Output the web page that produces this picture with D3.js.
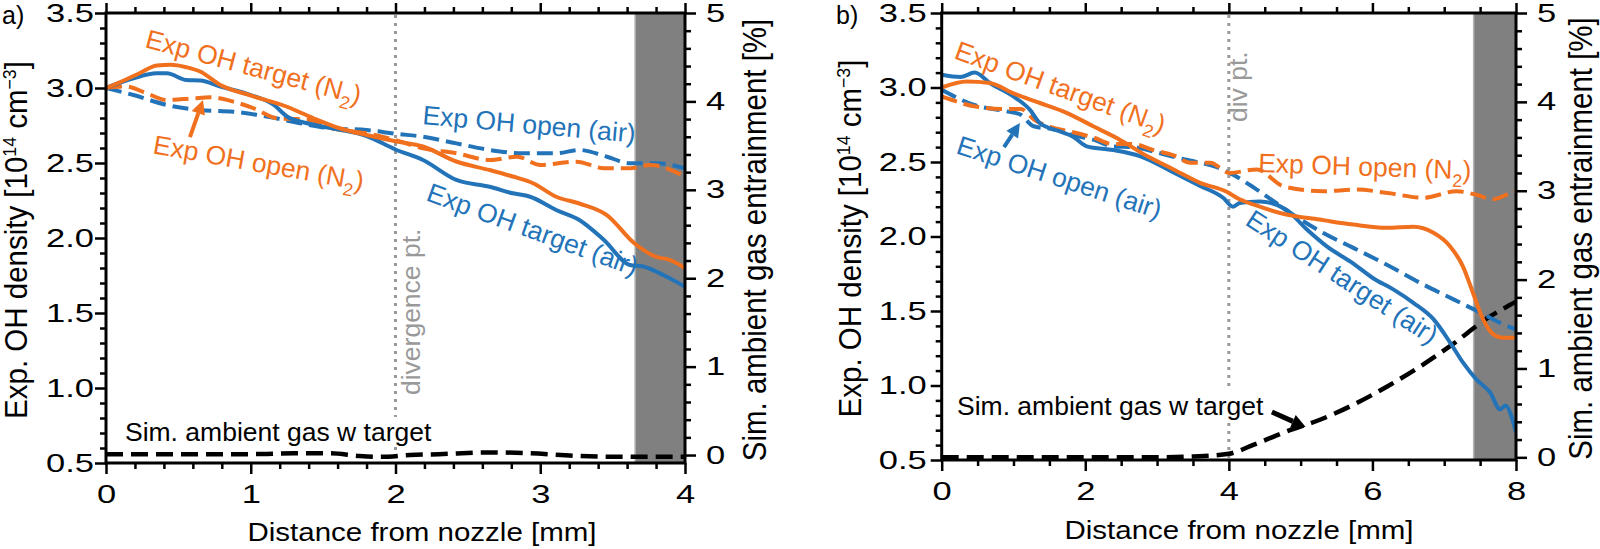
<!DOCTYPE html>
<html>
<head>
<meta charset="utf-8">
<script src="https://cdn.jsdelivr.net/npm/d3@7"></script>
<style>
  body { margin: 0; background: #fff; }
  svg { display: block; }
</style>
</head>
<body>
<script>

// ---- panel a: [distance mm, OH density 1e14 cm^-3] ----
var aTargetN2 = [[0,3.00],[0.1,3.04],[0.235,3.10],[0.35,3.15],[0.45,3.155],[0.557,3.138],[0.65,3.11],[0.79,3.02],[1.0,2.95],[1.25,2.875],[1.43,2.80],[1.62,2.73],[1.80,2.687],[2.0,2.645],[2.19,2.61],[2.42,2.51],[2.65,2.453],[2.81,2.41],[2.95,2.365],[3.11,2.275],[3.27,2.23],[3.46,2.153],[3.65,1.965],[3.80,1.875],[3.90,1.853],[4.0,1.80]];
var aTargetAir = [[0,3.00],[0.19,3.065],[0.35,3.098],[0.42,3.098],[0.557,3.053],[0.65,3.05],[0.79,3.01],[1.0,2.953],[1.16,2.887],[1.25,2.81],[1.39,2.765],[1.57,2.73],[1.80,2.68],[2.0,2.59],[2.19,2.52],[2.42,2.387],[2.65,2.342],[2.81,2.298],[2.93,2.275],[3.11,2.187],[3.27,2.12],[3.44,1.987],[3.62,1.82],[3.71,1.81],[3.85,1.753],[4.0,1.675]];
var aOpenAir = [[0,3.00],[0.19,2.953],[0.42,2.887],[0.65,2.853],[0.88,2.842],[1.11,2.81],[1.34,2.765],[1.57,2.73],[1.80,2.72],[2.0,2.695],[2.19,2.675],[2.42,2.631],[2.65,2.587],[2.88,2.565],[3.11,2.565],[3.27,2.587],[3.46,2.542],[3.62,2.498],[3.80,2.498],[4.0,2.465]];
var aOpenN2 = [[0,3.00],[0.14,3.01],[0.28,2.965],[0.42,2.92],[0.60,2.931],[0.72,2.938],[0.88,2.909],[1.02,2.865],[1.18,2.798],[1.39,2.79],[1.57,2.73],[1.80,2.698],[2.0,2.653],[2.19,2.598],[2.42,2.565],[2.65,2.52],[2.84,2.542],[3.0,2.487],[3.25,2.509],[3.44,2.465],[3.62,2.465],[3.76,2.487],[4.0,2.409]];
// sim. ambient gas entrainment [%], right axis
var aSim = [[0,0.01],[0.5,0.01],[1.0,0.01],[1.3,0.02],[1.55,0.02],[1.75,-0.01],[1.9,-0.02],[2.1,0.0],[2.3,0.01],[2.64,0.03],[2.93,0.02],[3.25,-0.01],[3.5,-0.02],[4.0,-0.02]];

// ---- panel b ----
var bTargetN2 = [[0,3.0],[0.35,3.04],[0.67,3.03],[1.0,2.96],[1.37,2.896],[1.74,2.83],[2.11,2.74],[2.48,2.65],[2.86,2.54],[3.23,2.45],[3.60,2.36],[3.97,2.30],[4.15,2.25],[4.34,2.215],[4.80,2.148],[5.26,2.114],[5.73,2.08],[6.20,2.058],[6.57,2.065],[6.85,2.025],[7.08,1.935],[7.26,1.80],[7.40,1.623],[7.54,1.445],[7.68,1.345],[7.82,1.32],[8.0,1.32]];
var bTargetAir = [[0,3.085],[0.26,3.07],[0.46,3.10],[0.67,3.03],[1.0,2.94],[1.23,2.85],[1.37,2.76],[1.65,2.705],[1.83,2.67],[2.02,2.605],[2.39,2.58],[2.76,2.54],[3.23,2.43],[3.60,2.34],[3.92,2.26],[4.06,2.20],[4.15,2.225],[4.43,2.235],[4.80,2.18],[5.08,2.05],[5.36,1.935],[5.73,1.82],[6.01,1.72],[6.29,1.645],[6.57,1.555],[6.85,1.445],[7.08,1.29],[7.26,1.155],[7.45,1.04],[7.64,0.953],[7.78,0.84],[7.85,0.865],[8.0,0.685]];
var bOpenAir = [[0,2.985],[0.44,2.885],[0.9,2.84],[1.09,2.82],[1.28,2.74],[1.55,2.72],[1.83,2.68],[2.11,2.65],[2.39,2.605],[2.67,2.60],[2.95,2.57],[3.23,2.535],[3.6,2.495],[3.8,2.47],[4.01,2.427],[4.39,2.315],[4.85,2.16],[5.31,2.025],[5.78,1.913],[6.24,1.80],[6.66,1.69],[7.13,1.578],[7.50,1.49],[7.78,1.42],[8.0,1.377]];
var bOpenN2 = [[0,2.94],[0.5,2.87],[0.9,2.855],[1.1,2.855],[1.3,2.78],[1.55,2.73],[1.83,2.70],[2.11,2.665],[2.39,2.62],[2.67,2.62],[2.95,2.58],[3.23,2.545],[3.46,2.495],[3.74,2.495],[4.01,2.427],[4.39,2.45],[4.76,2.337],[5.31,2.304],[5.78,2.315],[6.24,2.29],[6.71,2.26],[7.17,2.304],[7.45,2.28],[7.68,2.25],[7.92,2.29],[8.0,2.30]];
var bSim = [[0,0.0],[1,0.0],[2,0.0],[3,0.0],[3.5,0.01],[4.0,0.04],[4.34,0.14],[4.80,0.29],[5.26,0.42],[5.73,0.59],[6.20,0.795],[6.66,1.02],[7.13,1.28],[7.59,1.56],[8.0,1.75]];

// tick values
var yTicks = [0.5, 1.0, 1.5, 2.0, 2.5, 3.0, 3.5];
var y2Ticks = [0, 1, 2, 3, 4, 5];
var aXTicks = [0, 1, 2, 3, 4];
var bXTicks = [0, 2, 4, 6, 8];

var orange = "#f0701e", blue = "#2373b9", grey = "#999999";

var svg = d3.select("body").append("svg")
    .attr("width", 1600).attr("height", 549)
    .style("font-family", '"Liberation Sans", Arial, Helvetica, sans-serif');

var panels = [
    {
        id: "a", label: "a)", labelX: 2,
        left: 106, right: 685, top: 13, bottom: 463,
        xDomain: [0, 4], xTicks: aXTicks, xMinor: 0.2, y2Domain: [-0.09, 5],
        shadeFrom: 3.655, divX: 2,
        yTitleX: 27, y2TitleX: 766, xTitleX: 422, xTitleY: 541, leftPad: 1,
        series: [
            { data: aSim, color: "#000", dash: true, right: true },
            { data: aOpenAir, color: blue, dash: true },
            { data: aOpenN2, color: orange, dash: true },
            { data: aTargetAir, color: blue },
            { data: aTargetN2, color: orange }
        ],
        notes: [
            { x: 0.262, y: 3.273, rot: 15, color: orange, parts: [["Exp OH target (N"], ["2", "sub"], [")"]] },
            { x: 0.318, y: 2.565, rot: 10, color: orange, parts: [["Exp OH open (N"], ["2", "sub"], [")"]] },
            { x: 2.183, y: 2.76, rot: 5, color: blue, parts: [["Exp OH open (air)"]] },
            { x: 2.204, y: 2.253, rot: 20, color: blue, parts: [["Exp OH target (air)"]] },
            { x: 0.131, y: 0.647, rot: 0, color: "#000", parts: [["Sim. ambient gas w target"]], box: true },
            { x: 2.169, y: 0.953, rot: -90, color: grey, parts: [["divergence pt."]] }
        ],
        arrows: [
            { from: [0.58, 2.673], to: [0.67, 2.92], color: orange, w: 4 }
        ]
    },
    {
        id: "b", label: "b)", labelX: 836,
        left: 941.7, right: 1516, top: 13, bottom: 460,
        xDomain: [0, 8], xTicks: bXTicks, xMinor: 0.5, y2Domain: [-0.03, 5],
        shadeFrom: 7.41, divX: 4,
        yTitleX: 861, y2TitleX: 1592, xTitleX: 1239, xTitleY: 539, leftPad: 4,
        series: [
            { data: bSim, color: "#000", dash: true, right: true },
            { data: bOpenAir, color: blue, dash: true },
            { data: bOpenN2, color: orange, dash: true },
            { data: bTargetAir, color: blue },
            { data: bTargetN2, color: orange }
        ],
        notes: [
            { x: 0.157, y: 3.198, rot: 20, color: orange, parts: [["Exp OH target (N"], ["2", "sub"], [")"]] },
            { x: 0.185, y: 2.56, rot: 18, color: blue, parts: [["Exp OH open (air)"]] },
            { x: 4.405, y: 2.433, rot: 2, color: orange, parts: [["Exp OH open (N"], ["2", "sub"], [")"]] },
            { x: 4.21, y: 2.084, rot: 33, color: blue, parts: [["Exp OH target (air)"]] },
            { x: 0.213, y: 0.802, rot: 0, color: "#000", parts: [["Sim. ambient gas w target"]], box: true },
            { x: 4.248, y: 2.768, rot: -90, color: grey, parts: [["div pt."]] }
        ],
        arrows: [
            { from: [0.868, 2.60], to: [1.09, 2.762], color: blue, w: 4 },
            { from: [4.6, 0.822], to: [5.07, 0.721], color: "#000", w: 5 }
        ]
    }
];

// text with sub/superscript parts
function rich(text, parts, fs) {
    var shift = 0;
    parts.forEach(function (p) {
        var s = p[1] === "sub" ? 0.3 * fs : p[1] === "sup" ? -0.36 * fs : 0;
        text.append("tspan")
            .attr("dy", s - shift)
            .attr("font-size", p[1] === "sup" ? fs * 0.6 : p[1] ? fs * 0.68 : fs)
            .text(p[0]);
        shift = s;
    });
}

function arrow(g, x1, y1, x2, y2, color, w) {
    var dx = x2 - x1, dy = y2 - y1, len = Math.sqrt(dx * dx + dy * dy);
    var ux = dx / len, uy = dy / len;
    var hl = 14, hw = 7;
    var bx = x2 - ux * hl, by = y2 - uy * hl;
    g.append("line").attr("x1", x1).attr("y1", y1).attr("x2", bx).attr("y2", by)
        .attr("stroke", color).attr("stroke-width", w);
    g.append("path")
        .attr("d", "M" + x2 + "," + y2 + "L" + (bx - uy * hw) + "," + (by + ux * hw) + "L" + (bx + uy * hw) + "," + (by - ux * hw) + "Z")
        .attr("fill", color);
}

function styleAxis(ag, tickW) {
    ag.attr("font-size", 25).attr("font-family", null);
    ag.select(".domain").remove();
    ag.selectAll(".tick line").attr("stroke-width", tickW);
}

function minorVals(d0, d1, step, majors) {
    var out = [];
    for (var i = Math.ceil(d0 / step - 1e-9); i * step <= d1 + 1e-9; i++) {
        var v = Math.round(i * step * 1000) / 1000;
        if (majors.indexOf(v) < 0) out.push(v);
    }
    return out;
}

function drawPanel(p) {
    var g = svg.append("g");
    var x = d3.scaleLinear().domain(p.xDomain).range([p.left, p.right]);
    var y = d3.scaleLinear().domain([0.5, 3.5]).range([p.bottom, p.top]);
    var y2 = d3.scaleLinear().domain(p.y2Domain).range([p.bottom, p.top]);

    svg.append("clipPath").attr("id", "clip" + p.id).append("rect")
        .attr("x", p.left).attr("y", p.top)
        .attr("width", p.right - p.left).attr("height", p.bottom - p.top);

    // shaded target region
    g.append("rect")
        .attr("x", x(p.shadeFrom)).attr("y", p.top)
        .attr("width", p.right - x(p.shadeFrom)).attr("height", p.bottom - p.top)
        .attr("fill", "#808080");
    g.append("line")
        .attr("x1", x(p.shadeFrom)).attr("x2", x(p.shadeFrom))
        .attr("y1", p.top).attr("y2", p.bottom)
        .attr("stroke", "#b5b5b5").attr("stroke-width", 1.5);

    // divergence point
    g.append("line")
        .attr("x1", x(p.divX)).attr("x2", x(p.divX))
        .attr("y1", p.top + 2).attr("y2", p.bottom)
        .attr("stroke", grey).attr("stroke-width", 3).attr("stroke-dasharray", "3,5");

    var lines = g.append("g").attr("clip-path", "url(#clip" + p.id + ")");
    p.series.forEach(function (s) {
        var yy = s.right ? y2 : y;
        var gen = d3.line().x(function (d) { return x(d[0]); })
            .y(function (d) { return yy(d[1]); })
            .curve(d3.curveMonotoneX);
        lines.append("path")
            .attr("d", gen(s.data))
            .attr("fill", "none")
            .attr("stroke", s.color)
            .attr("stroke-width", s.right ? 4.5 : 4)
            .attr("stroke-dasharray", s.dash ? (s.right ? "17,8" : "16,7") : null);
    });

    // annotations
    p.notes.forEach(function (n) {
        var fs = 26.5;
        var t = g.append("text")
            .attr("transform", "translate(" + x(n.x) + "," + y(n.y) + ") rotate(" + n.rot + ")")
            .attr("fill", n.color)
            .attr("font-size", fs);
        rich(t, n.parts, fs);
        if (n.box) {
            var bb = t.node().getBBox();
            g.insert("rect", function () { return t.node(); })
                .attr("x", x(n.x) + bb.x - 2).attr("y", y(n.y) + bb.y)
                .attr("width", bb.width + 4).attr("height", bb.height - 2)
                .attr("fill", "#fff");
        }
    });
    p.arrows.forEach(function (a) {
        arrow(g, x(a.from[0]), y(a.from[1]), x(a.to[0]), y(a.to[1]), a.color, a.w);
    });

    // axes
    var sx = 1.38;
    var xl = g.append("g").attr("transform", "translate(0," + p.bottom + ")")
        .call(d3.axisBottom(x).tickValues(p.xTicks).tickSize(11).tickPadding(11).tickFormat(d3.format("d")));
    styleAxis(xl, 2.5);
    xl.selectAll("text").attr("transform", "scale(" + sx + ",1)");
    var xm = g.append("g").attr("transform", "translate(0," + p.bottom + ")")
        .call(d3.axisBottom(x).tickValues(minorVals(p.xDomain[0], p.xDomain[1], p.xMinor, p.xTicks)).tickSize(6).tickFormat(""));
    styleAxis(xm, 2.5);
    var xt = g.append("g").attr("transform", "translate(0," + p.top + ")")
        .call(d3.axisTop(x).tickValues(p.xTicks).tickSize(10).tickFormat(""));
    styleAxis(xt, 2.5);
    var xtm = g.append("g").attr("transform", "translate(0," + p.top + ")")
        .call(d3.axisTop(x).tickValues(minorVals(p.xDomain[0], p.xDomain[1], p.xMinor, p.xTicks)).tickSize(6).tickFormat(""));
    styleAxis(xtm, 2.5);

    var yl = g.append("g").attr("transform", "translate(" + p.left + ",0)")
        .call(d3.axisLeft(y).tickValues(yTicks).tickSize(11).tickFormat(d3.format(".1f")));
    styleAxis(yl, 2.5);
    yl.selectAll("text").attr("x", 0)
        .attr("transform", "translate(" + (-11 - p.leftPad) + ",0) scale(" + sx + ",1)");
    var ym = g.append("g").attr("transform", "translate(" + p.left + ",0)")
        .call(d3.axisLeft(y).tickValues(minorVals(0.5, 3.5, 0.1, yTicks)).tickSize(6).tickFormat(""));
    styleAxis(ym, 2.5);

    var yr = g.append("g").attr("transform", "translate(" + p.right + ",0)")
        .call(d3.axisRight(y2).tickValues(y2Ticks).tickSize(11).tickFormat(d3.format("d")));
    styleAxis(yr, 2.5);
    yr.selectAll("text").attr("x", 0)
        .attr("transform", "translate(21,0) scale(" + sx + ",1)");
    var yrm = g.append("g").attr("transform", "translate(" + p.right + ",0)")
        .call(d3.axisRight(y2).tickValues(minorVals(0, 5, 0.2, y2Ticks)).tickSize(6).tickFormat(""));
    styleAxis(yrm, 2.5);

    // frame
    g.append("rect")
        .attr("x", p.left).attr("y", p.top)
        .attr("width", p.right - p.left).attr("height", p.bottom - p.top)
        .attr("fill", "none").attr("stroke", "#000").attr("stroke-width", 3);

    // titles
    g.append("text")
        .attr("transform", "translate(" + p.xTitleX + "," + p.xTitleY + ") scale(1.18,1)")
        .attr("text-anchor", "middle").attr("font-size", 25)
        .text("Distance from nozzle [mm]");

    var ymid = (p.top + p.bottom) / 2 + 2;
    var yt = g.append("text")
        .attr("transform", "translate(" + p.yTitleX + "," + ymid + ") scale(1.05,1) rotate(-90)")
        .attr("text-anchor", "middle");
    rich(yt, [["Exp. OH density [10"], ["14", "sup"], [" cm"], ["\u22123", "sup"], ["]"]], 29.5);

    g.append("text")
        .attr("transform", "translate(" + p.y2TitleX + "," + ymid + ") scale(1.1,1) rotate(-90)")
        .attr("text-anchor", "middle").attr("font-size", 29.5)
        .text("Sim. ambient gas entrainment [%]");

    g.append("text")
        .attr("x", p.labelX).attr("y", 24)
        .attr("font-size", 25)
        .text(p.label);
}

panels.forEach(drawPanel);

</script>
</body>
</html>
